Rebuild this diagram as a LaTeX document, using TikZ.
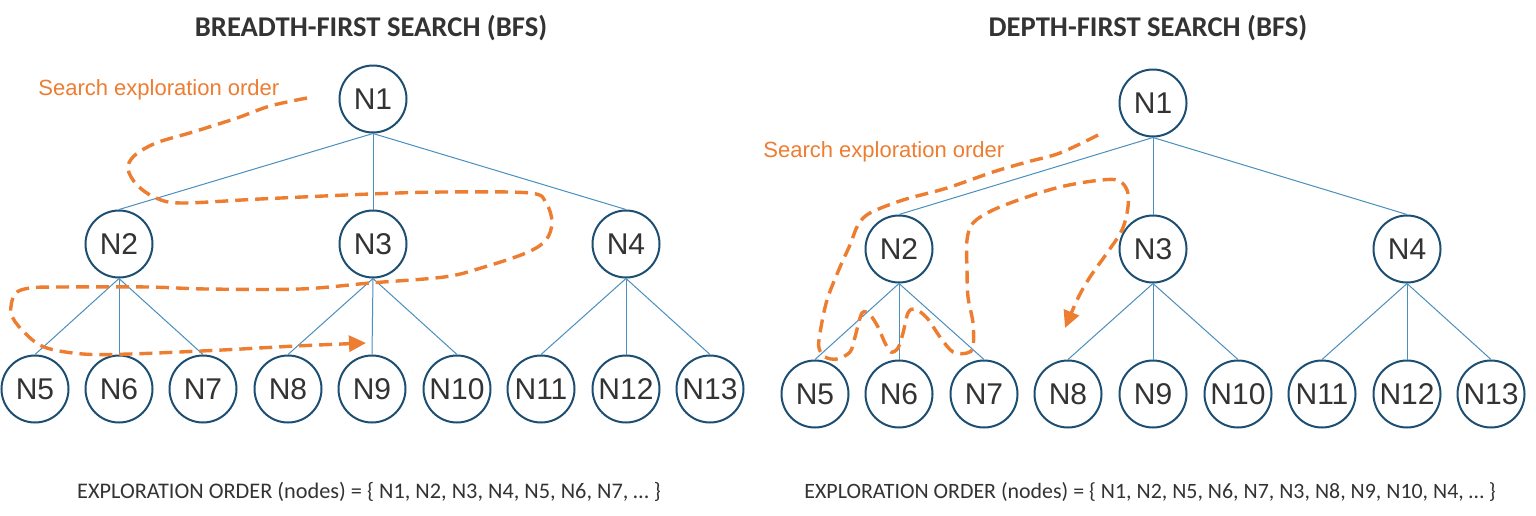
\documentclass[tikz,border=0pt]{standalone}
\usepackage{fontspec}
\setmainfont{Liberation Sans}
\newfontfamily\carlito{Carlito}
\usetikzlibrary{arrows.meta}
\definecolor{nodeblue}{HTML}{1D4F73}
\definecolor{edgeblue}{HTML}{4A8FBE}
\definecolor{orng}{HTML}{ED7D31}
\definecolor{txtgray}{HTML}{333333}
\tikzset{
  nd/.style={circle, draw=nodeblue, line width=1pt, minimum size=33.5pt, inner sep=0pt,
    text=txtgray, font=\fontsize{15}{17}\selectfont},
  edgeline/.style={draw=edgeblue, line width=0.5pt},
  pathline/.style={draw=orng, line width=1.7pt, dash pattern=on 6.5pt off 3.5pt,
    -{Triangle[length=8.5pt,width=8pt]}},
  ttl/.style={text=txtgray, font=\carlito\bfseries\fontsize{14.3}{16}\selectfont},
  lbl/.style={text=orng, font=\fontsize{11}{13}\selectfont, anchor=west, inner sep=0pt},
  ordertext/.style={text=txtgray, font=\carlito\fontsize{11.15}{13}\selectfont}
}
\begin{document}
\begin{tikzpicture}[x=0.5pt,y=-0.5pt]
\useasboundingbox[fill=white] (0,0) rectangle (1536,515);
% titles
\node[ttl] (t1) at (371,28) {BREADTH-FIRST SEARCH (BFS)};
\node[ttl] (t2) at (1148,28) {DEPTH-FIRST SEARCH (BFS)};
% left tree
\node[nd] (a1) at (373,99) {N1};
\node[nd] (a2) at (119,244) {N2};
\node[nd] (a3) at (373,244) {N3};
\node[nd] (a4) at (626,244) {N4};
\foreach \i/\x in {5/35,6/119,7/203,8/288,9/372,10/457,11/541,12/626,13/710}
  \node[nd] (a\i) at (\x,389) {N\i};
% right tree
\node[nd] (b1) at (1153,103) {N1};
\node[nd] (b2) at (899,249) {N2};
\node[nd] (b3) at (1153,249) {N3};
\node[nd] (b4) at (1407,249) {N4};
\foreach \i/\x in {5/815,6/899,7/984,8/1068,9/1153,10/1238,11/1322,12/1407,13/1491}
  \node[nd] (b\i) at (\x,394) {N\i};
% edges
\foreach \t in {a,b}{
  \foreach \c in {2,3,4} \draw[edgeline] (\t1.south) -- (\t\c.north);
  \foreach \c in {5,6,7} \draw[edgeline] (\t2.south) -- (\t\c.north);
  \foreach \c in {8,9,10} \draw[edgeline] (\t3.south) -- (\t\c.north);
  \foreach \c in {11,12,13} \draw[edgeline] (\t4.south) -- (\t\c.north);
}
% labels
\node[lbl] (l1) at (38,90) {Search exploration order};
\node[lbl] (l2) at (763,152) {Search exploration order};
% BFS path
\draw[pathline] plot[smooth, tension=0.55] coordinates {
 (307,98) (270,106) (237,118) (193,132) (156,143) (134,156) (128,169) (137,185) (156,198) (182,203)
 (260,199) (370,194) (444,192) (530,193) (546,203) (552,222) (546,240) (526,253) (481,268) (444,277)
 (370,283) (300,289) (207,289) (148,287) (60,287) (30,288) (15,294) (11,313) (22,330) (44,347)
 (83,354) (130,354) (222,350) (296,346) (366,343)};
% DFS path
\draw[pathline] plot[smooth, tension=0.55] coordinates {
 (1098,135) (1060,153) (1027,162) (993,172) (947,188) (903,200) (870,213) (858,225) (850,245)
 (840,267) (827,300) (820,333) (819,348) (825,357) (837,359) (850,352) (855,337) (862,313)
 (870,315) (878,327) (885,343) (891,352) (898,348) (903,333) (908,313) (915,309) (927,318)
 (940,337) (953,352) (967,353) (973,347) (973,323) (968,297) (967,270) (967,240) (973,223)
 (993,210) (1027,197) (1060,187) (1093,181) (1117,180) (1127,190) (1128,207) (1122,230)
 (1107,253) (1090,277) (1078,298) (1065,328)};
% order texts
\node[ordertext] (o1) at (369,492) {EXPLORATION ORDER (nodes) = \{ N1, N2, N3, N4, N5, N6, N7, … \}};
\node[ordertext, font=\carlito\fontsize{10.95}{13}\selectfont] (o2) at (1150,492) {EXPLORATION ORDER (nodes) = \{ N1, N2, N5, N6, N7, N3, N8, N9, N10, N4, … \}};
\end{tikzpicture}
\end{document}
